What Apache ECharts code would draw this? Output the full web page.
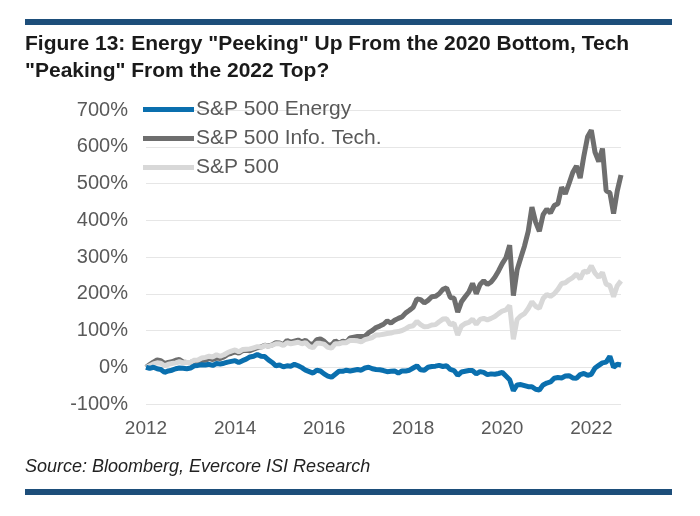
<!DOCTYPE html>
<html>
<head>
<meta charset="utf-8">
<script src="https://cdn.jsdelivr.net/npm/echarts@6/dist/echarts.min.js"></script>
<style>
  html, body { margin: 0; padding: 0; background: #fff; }
  #main { width: 700px; height: 516px; }
</style>
</head>
<body>
<div id="main"></div>
<script>
// month-end points, first one is the base (end of 2011) = 0%
var startYear = 2012;
var yearLabels = [2012, 2014, 2016, 2018, 2020, 2022];
var yTicks = [-100, 0, 100, 200, 300, 400, 500, 600, 700];

// S&P 500 Energy, % change
var energy = [0,
  -3, 0, -4, -6, -14, -10, -8, -4, -2, -3, -4, -2,          // 2012
  4, 5, 7, 6, 8, 5, 10, 9, 11, 14, 16, 18,                  // 2013
  13, 18, 22, 28, 30, 35, 30, 29, 20, 13, 4, 6,             // 2014
  1, 4, 3, 8, 4, -1, -8, -12, -16, -8, -10, -18,            // 2015
  -24, -27, -19, -11, -11, -8, -10, -8, -6, -8, -2, 0,      // 2016
  -4, -6, -7, -9, -12, -11, -10, -16, -10, -10, -8, -2,     // 2017
  4, -7, -8, 0, 2, 3, 5, 2, 4, -6, -9, -22,                 // 2018
  -13, -11, -9, -9, -18, -12, -14, -20, -18, -19, -17, -14, // 2019
  -24, -34, -64, -48, -47, -50, -53, -53, -60, -62, -48, -43, // 2020
  -40, -30, -28, -29, -24, -23, -29, -30, -20, -17, -22, -19, // 2021
  -2, 5, 12, 14, 30, 0, 8, 6                                // 2022
];

// S&P 500 Info. Tech., % change
var tech = [0,
  7, 14, 20, 18, 10, 13, 15, 19, 21, 14, 13, 13,            // 2012
  16, 16, 18, 19, 24, 21, 25, 24, 28, 35, 38, 42,           // 2013
  38, 45, 46, 45, 49, 53, 55, 60, 58, 61, 67, 66,           // 2014
  61, 73, 68, 71, 74, 69, 73, 64, 62, 75, 77, 71,           // 2015
  61, 60, 72, 65, 71, 68, 80, 82, 84, 84, 84, 94,           // 2016
  100, 108, 112, 117, 126, 120, 128, 133, 137, 148, 155, 163, // 2017
  186, 184, 175, 182, 192, 193, 200, 212, 216, 190, 188, 150, // 2018
  178, 192, 205, 228, 200, 225, 235, 225, 232, 245, 262, 282, // 2019
  298, 332, 195, 265, 298, 330, 370, 436, 395, 370, 415, 430, // 2020
  420, 440, 445, 490, 472, 500, 530, 548, 515, 575, 627, 645, // 2021
  585, 560, 595, 480, 475, 418, 480, 523                    // 2022
];

// S&P 500, % change
var spx = [0,
  4, 9, 12, 11, 4, 8, 10, 12, 15, 12, 13, 13,               // 2012
  19, 20, 25, 27, 30, 28, 34, 30, 34, 40, 44, 47,           // 2013
  42, 48, 49, 50, 53, 56, 54, 59, 57, 60, 64, 64,           // 2014
  59, 67, 64, 66, 68, 64, 67, 57, 53, 65, 65, 63,           // 2015
  54, 52, 64, 64, 67, 67, 73, 73, 72, 69, 75, 78,           // 2016
  81, 88, 88, 90, 92, 93, 96, 97, 100, 105, 111, 113,       // 2017
  125, 116, 110, 111, 115, 116, 124, 131, 132, 116, 120, 88, // 2018
  112, 119, 122, 131, 117, 130, 133, 129, 133, 138, 146, 153, // 2019
  156, 168, 76, 130, 140, 146, 160, 178, 166, 160, 187, 198, // 2020
  193, 200, 212, 228, 230, 238, 244, 254, 240, 262, 258, 276, // 2021
  256, 245, 258, 226, 222, 192, 222, 235                    // 2022
];

function toPairs(vals) {
  return vals.map(function (v, i) { return [startYear + i / 12, v]; });
}

var chart = echarts.init(document.getElementById('main'));

var option = {
  animation: false,
  backgroundColor: '#fff',
  title: {
    text: 'Figure 13: Energy "Peeking" Up From the 2020 Bottom, Tech\n"Peaking" From the 2022 Top?',
    left: 20,
    top: 26,
    textStyle: {
      fontFamily: 'Liberation Sans',
      fontWeight: 'bold',
      fontSize: 21,
      lineHeight: 27,
      color: '#1a1a1a'
    }
  },
  graphic: [
    { type: 'rect', shape: { x: 25, y: 19, width: 647, height: 6 }, style: { fill: '#1d4e7a' } },
    { type: 'rect', shape: { x: 25, y: 489, width: 647, height: 6 }, style: { fill: '#1d4e7a' } },
    {
      type: 'text', left: 25, top: 458,
      style: {
        text: 'Source: Bloomberg, Evercore ISI Research',
        font: 'italic 18px "Liberation Sans"',
        fill: '#222'
      }
    }
  ],
  legend: {
    orient: 'vertical',
    left: 138,
    top: 94,
    itemGap: 8,
    itemWidth: 51,
    itemHeight: 5,
    icon: 'rect',
    data: ['S&P 500 Energy', 'S&P 500 Info. Tech.', 'S&P 500'],
    textStyle: { fontFamily: 'Liberation Sans', fontSize: 21, color: '#595959', padding: [0, 0, 0, -3] }
  },
  grid: { left: 146, right: 79, top: 110, bottom: 112 },
  xAxis: {
    type: 'value',
    min: startYear,
    max: startYear + (energy.length - 1) / 12,
    interval: 2,
    axisLine: { show: false },
    axisTick: { show: false },
    splitLine: { show: false },
    axisLabel: {
      margin: 15,
      fontFamily: 'Liberation Sans',
      fontSize: 19,
      color: '#595959',
      formatter: function (v) {
        return yearLabels.indexOf(Math.round(v)) >= 0 && Math.abs(v - Math.round(v)) < 1e-6 ? String(Math.round(v)) : '';
      }
    }
  },
  yAxis: {
    type: 'value',
    min: yTicks[0],
    max: yTicks[yTicks.length - 1],
    interval: 100,
    axisLine: { show: false },
    axisTick: { show: false },
    splitLine: { lineStyle: { color: '#e6e6e6', width: 1 } },
    axisLabel: {
      margin: 18,
      fontFamily: 'Liberation Sans',
      fontSize: 20,
      color: '#595959',
      formatter: '{value}%'
    }
  },
  series: [
    {
      name: 'S&P 500 Info. Tech.',
      type: 'line',
      symbol: 'none',
      data: toPairs(tech),
      lineStyle: { color: '#6e6e6e', width: 5 },
      itemStyle: { color: '#6e6e6e' }
    },
    {
      name: 'S&P 500',
      type: 'line',
      symbol: 'none',
      data: toPairs(spx),
      lineStyle: { color: '#d8d8d8', width: 5 },
      itemStyle: { color: '#d8d8d8' }
    },
    {
      name: 'S&P 500 Energy',
      type: 'line',
      symbol: 'none',
      data: toPairs(energy),
      lineStyle: { color: '#0a6fae', width: 5 },
      itemStyle: { color: '#0a6fae' }
    }
  ]
};

chart.setOption(option);
</script>
</body>
</html>
